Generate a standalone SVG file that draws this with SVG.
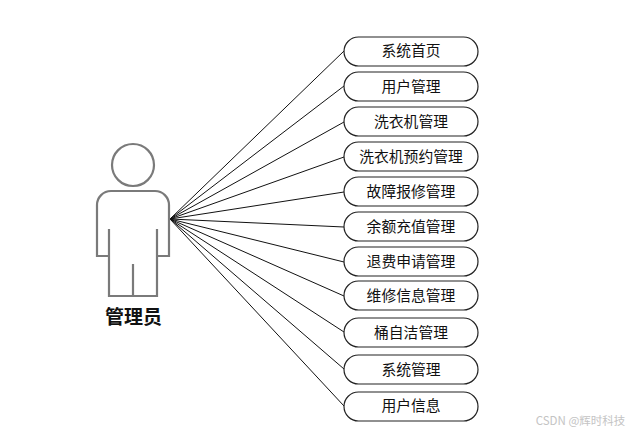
<svg xmlns="http://www.w3.org/2000/svg" width="631" height="432" viewBox="0 0 631 432">
<style>
text{font-family:"Noto Sans CJK SC","Liberation Sans",sans-serif;text-anchor:middle}
.n rect{fill:#fff;stroke:#222;stroke-width:1.2}
.n text{font-size:14.8px;fill:#111}
.c line{stroke:#111;stroke-width:1}
.p{fill:none;stroke:#7a7a7a;stroke-width:2.2}
</style>
<rect width="631" height="432" fill="#fff"/>
<g id="connectors" class="c">
<line x1="170" y1="219" x2="344" y2="51"/>
<line x1="170" y1="219" x2="344" y2="86"/>
<line x1="170" y1="219" x2="344" y2="122"/>
<line x1="170" y1="219" x2="344" y2="157"/>
<line x1="170" y1="219" x2="344" y2="192"/>
<line x1="170" y1="219" x2="344" y2="227"/>
<line x1="170" y1="219" x2="344" y2="262"/>
<line x1="170" y1="219" x2="344" y2="296"/>
<line x1="170" y1="219" x2="344" y2="332"/>
<line x1="170" y1="219" x2="344" y2="369"/>
<line x1="170" y1="219" x2="344" y2="406"/>
</g>
<g id="actor">
<circle class="p" cx="133" cy="165" r="21"/>
<path class="p" d="M109 229V256H97V205A14 14 0 0 1 111 191H155A14 14 0 0 1 169 205V256H157V229M109 256V296H157V256M133 264V296"/>
<text x="133.500" y="324" style="font-size:19px;font-weight:700;fill:#111">管理员</text>
</g>
<g id="n1" class="n"><rect x="344" y="37" width="134" height="29" rx="14.500"/><text x="411" y="56">系统首页</text></g>
<g id="n2" class="n"><rect x="344" y="72" width="134" height="29" rx="14.500"/><text x="411" y="92">用户管理</text></g>
<g id="n3" class="n"><rect x="344" y="107" width="134" height="29" rx="14.500"/><text x="411" y="127">洗衣机管理</text></g>
<g id="n4" class="n"><rect x="344" y="142" width="134" height="29" rx="14.500"/><text x="411" y="162">洗衣机预约管理</text></g>
<g id="n5" class="n"><rect x="344" y="177" width="134" height="29" rx="14.500"/><text x="411" y="197">故障报修管理</text></g>
<g id="n6" class="n"><rect x="344" y="212" width="134" height="29" rx="14.500"/><text x="411" y="232">余额充值管理</text></g>
<g id="n7" class="n"><rect x="344" y="247" width="134" height="29" rx="14.500"/><text x="411" y="267">退费申请管理</text></g>
<g id="n8" class="n"><rect x="344" y="281" width="134" height="29" rx="14.500"/><text x="411" y="301">维修信息管理</text></g>
<g id="n9" class="n"><rect x="344" y="318" width="134" height="29" rx="14.500"/><text x="411" y="338">桶自洁管理</text></g>
<g id="n10" class="n"><rect x="344" y="355" width="134" height="29" rx="14.500"/><text x="411" y="375">系统管理</text></g>
<g id="n11" class="n"><rect x="344" y="392" width="134" height="29" rx="14.500"/><text x="411" y="411">用户信息</text></g>
<text x="580.500" y="425" style="font-size:11.500px;fill:#c4c4c4">CSDN @辉时科技</text>
</svg>
